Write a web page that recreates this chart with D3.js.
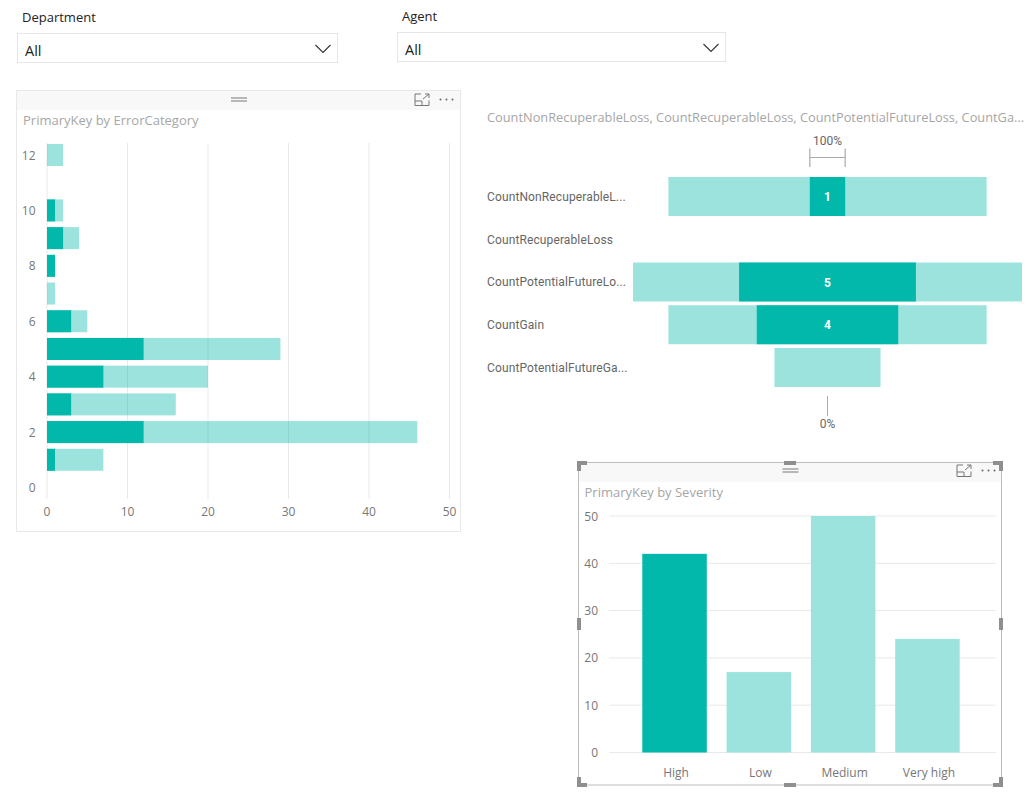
<!DOCTYPE html>
<html><head><meta charset="utf-8">
<script src="https://cdn.jsdelivr.net/npm/d3@7"></script>
<style>html,body{margin:0;padding:0;background:#fff}svg{display:block}text{font-family:"Open Sans",sans-serif}.din{font-family:Roboto,sans-serif}</style>
</head><body><svg id="c" width="1030" height="798"></svg>
<script>
const errorCategories=[1,2,3,4,5,6,7,8,9,10,12];
const errorTotal=[7,46,16,20,29,5,1,1,4,2,2];
const errorHighlight=[1,12,3,7,12,3,0,1,2,1,0];
const errorTicksY=[0,2,4,6,8,10,12];
const errorTicksX=[0,10,20,30,40,50];
const stages=["CountNonRecuperableLoss","CountRecuperableLoss","CountPotentialFutureLoss","CountGain","CountPotentialFutureGain"];
const stageLabels=["CountNonRecuperableL...","CountRecuperableLoss","CountPotentialFutureLo...","CountGain","CountPotentialFutureGa..."];
const funnelTitle="CountNonRecuperableLoss, CountRecuperableLoss, CountPotentialFutureLoss, CountGa...";
const stageTotal=[9,0,11,9,3];
const stageHighlight=[1,0,5,4,0];
const severities=["High","Low","Medium","Very high"];
const severityValues=[42,17,50,24];
const severityHighlighted=[true,false,false,false];
const severityTicks=[0,10,20,30,40,50];
const DARK="#01B8AA",LIGHT="#9BE3DC",GRID="#e9e9e9",AXIS="#777",TITLE="#a6a6a6";
const svg=d3.select("#c");

function slicer(label,lx,ly,bx,by,bw,bh){
  svg.append("text").attr("x",lx).attr("y",ly).attr("font-size",13).attr("fill","#222").text(label);
  svg.append("rect").attr("x",bx).attr("y",by).attr("width",bw).attr("height",bh).attr("fill","#fff").attr("stroke","#e6e6e6");
  svg.append("text").attr("x",bx+7.5).attr("y",by+22).attr("font-size",14.5).attr("fill","#222").text("All");
  const cx=bx+bw-14.5,cy=by+15;
  svg.append("path").attr("d",`M${cx-7.5},${cy-3.5}L${cx},${cy+4}L${cx+7.5},${cy-3.5}`).attr("fill","none").attr("stroke","#333").attr("stroke-width",1.1);
}
slicer("Department",22,22,17.5,33.5,320,29);
slicer("Agent",402,21,397.5,32.5,328,29);

function panel(x,y,w,h,border,gripY,gripX,iconX){
  svg.append("rect").attr("x",x).attr("y",y).attr("width",w).attr("height",h).attr("fill","#fff").attr("stroke",border);
  svg.append("rect").attr("x",x+.5).attr("y",y+.5).attr("width",w-1).attr("height",19).attr("fill","#f8f8f8");
  svg.append("path").attr("d",`M${gripX-8},${gripY-1.5}H${gripX+8}M${gripX-8},${gripY+1.5}H${gripX+8}`).attr("stroke","#777").attr("stroke-width",1);
  svg.append("path").attr("d",`M${iconX+6},${gripY-5.5}H${iconX}V${gripY+6}H${iconX+14}V${gripY+1}M${iconX},${gripY+1.5}H${iconX+7}V${gripY+6}M${iconX+8},${gripY-0.5}L${iconX+14},${gripY-5.5}M${iconX+10},${gripY-5.5}H${iconX+14}V${gripY-1.5}`).attr("fill","none").attr("stroke","#777").attr("stroke-width",1);
  [25.5,31.5,37.5].forEach(d=>svg.append("circle").attr("cx",iconX+d).attr("cy",gripY).attr("r",1).attr("fill","#666"));
}

// Left chart
panel(16.5,90.5,444,441,"#e8e8e8",99.5,239,415);
svg.append("text").attr("x",23).attr("y",125).attr("font-size",13).attr("fill",TITLE).text("PrimaryKey by ErrorCategory");
const lx=d3.scaleLinear().domain([0,50]).range([47,449.5]);
const ly=d3.scaleLinear().domain([0,12]).range([487.5,155]);
const lg=svg.append("g");
lg.selectAll("line").data(errorTicksX).join("line")
  .attr("x1",d=>lx(d)).attr("x2",d=>lx(d)).attr("y1",143).attr("y2",499).attr("stroke",GRID).attr("stroke-width",1);
const barH=22;
lg.selectAll("rect.t").data(errorCategories).join("rect").attr("class","t")
  .attr("x",lx(0)).attr("y",d=>ly(d)-barH/2).attr("height",barH)
  .attr("width",(d,i)=>lx(errorTotal[i])-lx(0)).attr("fill",DARK).attr("fill-opacity",.39);
lg.selectAll("rect.h").data(errorCategories).join("rect").attr("class","h")
  .attr("x",lx(0)).attr("y",d=>ly(d)-barH/2).attr("height",barH)
  .attr("width",(d,i)=>lx(errorHighlight[i])-lx(0)).attr("fill",DARK);
lg.selectAll("text.y").data(errorTicksY).join("text").attr("class","y")
  .attr("x",35.5).attr("y",d=>ly(d)+4.5).attr("text-anchor","end").attr("font-size",12).attr("fill",AXIS).text(d=>d);
lg.selectAll("text.x").data(errorTicksX).join("text").attr("class","x")
  .attr("x",d=>lx(d)).attr("y",516).attr("text-anchor","middle").attr("font-size",12).attr("fill",AXIS).text(d=>d);

// Funnel
svg.append("text").attr("x",487).attr("y",122).attr("font-size",12.8).attr("fill",TITLE).text(funnelTitle);
const fw=d3.scaleLinear().domain([0,11]).range([0,389]);
const fc=827.5;
const fy=d3.scaleBand().domain(stages).range([177,387]).paddingInner(.088).paddingOuter(0);
const fg=svg.append("g");
stages.forEach((s,i)=>{
  fg.append("text").attr("class","din").attr("x",487).attr("y",fy(s)+fy.bandwidth()/2+4.3).attr("font-size",12).attr("letter-spacing",.12).attr("fill","#666").text(stageLabels[i]);
  if(stageTotal[i]>0) fg.append("rect").attr("x",fc-fw(stageTotal[i])/2).attr("y",fy(s)).attr("width",fw(stageTotal[i])).attr("height",fy.bandwidth()).attr("fill",LIGHT);
  if(stageHighlight[i]>0){
    fg.append("rect").attr("x",fc-fw(stageHighlight[i])/2).attr("y",fy(s)).attr("width",fw(stageHighlight[i])).attr("height",fy.bandwidth()).attr("fill",DARK);
    fg.append("text").attr("class","din").attr("x",fc).attr("y",fy(s)+fy.bandwidth()/2+4.5).attr("text-anchor","middle").attr("font-size",12).attr("font-weight",700).attr("fill","#fff").text(stageHighlight[i]);
  }
});
const w1=fw(stageHighlight[0]);
fg.append("path").attr("d",`M${fc-w1/2},148.5V167M${fc+w1/2},148.5V167M${fc-w1/2},157.5H${fc+w1/2}`).attr("fill","none").attr("stroke","#aaa").attr("stroke-width",1.2);
fg.append("text").attr("class","din").attr("x",fc).attr("y",145).attr("text-anchor","middle").attr("font-size",12).attr("fill","#666").text("100%");
fg.append("line").attr("x1",fc).attr("x2",fc).attr("y1",396).attr("y2",416).attr("stroke","#aaa");
fg.append("text").attr("class","din").attr("x",fc).attr("y",428).attr("text-anchor","middle").attr("font-size",12).attr("fill","#666").text("0%");

// Right chart
panel(578.5,462.5,423,322.5,"#bdbdbd",470.5,790.5,957);
svg.append("text").attr("x",584.5).attr("y",497).attr("font-size",13).attr("fill",TITLE).text("PrimaryKey by Severity");
[[577,461,10,4],[577,461,4,10],[993,461,10,4],[999,461,4,10],[577,783,10,4],[577,777,4,10],[993,783,10,4],[999,777,4,10],
 [784,461,12,4],[784,783,12,4],[577,618,4,12],[999,618,4,12]].forEach(r=>{
  svg.append("rect").attr("x",r[0]).attr("y",r[1]).attr("width",r[2]).attr("height",r[3]).attr("fill","#8f8f8f");
});
const rx=d3.scaleBand().domain(severities).range([642.3,959.7]).paddingInner(.235).paddingOuter(0);
const ry=d3.scaleLinear().domain([0,50]).range([752.5,516]);
const rg=svg.append("g");
rg.selectAll("line").data(severityTicks).join("line").attr("x1",609).attr("x2",996).attr("y1",d=>ry(d)).attr("y2",d=>ry(d)).attr("stroke",GRID);
rg.selectAll("rect").data(severities).join("rect")
  .attr("x",d=>rx(d)).attr("width",rx.bandwidth())
  .attr("y",(d,i)=>ry(severityValues[i])).attr("height",(d,i)=>ry(0)-ry(severityValues[i]))
  .attr("fill",(d,i)=>severityHighlighted[i]?DARK:LIGHT);
rg.selectAll("text.y").data(severityTicks).join("text").attr("class","y")
  .attr("x",598).attr("y",d=>ry(d)+4.5).attr("text-anchor","end").attr("font-size",12).attr("fill",AXIS).text(d=>d);
rg.selectAll("text.x").data(severities).join("text").attr("class","x")
  .attr("x",d=>rx(d)+rx.bandwidth()/2+1.5).attr("y",777).attr("text-anchor","middle").attr("font-size",12).attr("fill",AXIS).text(d=>d);
</script></body></html>
